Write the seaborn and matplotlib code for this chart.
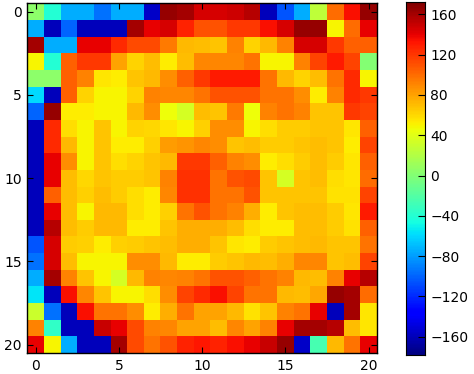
import numpy as np
import matplotlib
matplotlib.use("Agg")
import matplotlib.pyplot as plt
import seaborn as sns

rows = [
    [5, -40, -75, -75, -95, -75, -75, -155, 165, 160, 145, 145, 148, 155, -160, -105, -75, 25, 100, 135, 165],
    [-75, -160, -100, -160, -160, -160, 160, 140, 145, 128, 110, 110, 120, 120, 135, 145, 165, 165, 50, 100, 140],
    [160, -75, -75, 140, 140, 125, 112, 112, 95, 72, 70, 68, 92, 62, 72, 92, 145, 145, 120, 105, 105],
    [50, -40, 105, 120, 120, 80, 62, 70, 52, 70, 90, 90, 90, 98, 50, 50, 92, 115, 130, 115, 0],
    [5, 5, 105, 92, 55, 52, 68, 72, 88, 105, 120, 130, 130, 130, 98, 72, 62, 70, 98, 125, 50],
    [-60, -160, 105, 62, 50, 50, 62, 92, 90, 90, 98, 110, 110, 110, 98, 98, 88, 52, 92, 125, 120],
    [-100, 165, 52, 52, 50, 50, 72, 88, 45, 35, 70, 68, 95, 45, 92, 98, 92, 68, 68, 120, 115],
    [-160, 125, 58, 50, 68, 50, 62, 60, 55, 50, 63, 88, 88, 50, 58, 65, 65, 68, 68, 55, 105],
    [-160, 125, 72, 50, 68, 52, 52, 63, 82, 85, 90, 88, 68, 70, 65, 65, 68, 70, 68, 52, 115],
    [-160, 140, 88, 50, 68, 58, 62, 68, 72, 120, 120, 105, 92, 88, 52, 58, 65, 70, 65, 55, 105],
    [-160, 140, 70, 60, 68, 65, 65, 68, 92, 122, 122, 98, 110, 112, 68, 35, 68, 70, 58, 55, 100],
    [-160, 105, 70, 63, 70, 65, 58, 52, 90, 122, 122, 98, 98, 110, 68, 68, 68, 68, 56, 56, 115],
    [-160, 140, 70, 50, 72, 72, 58, 52, 63, 98, 110, 98, 92, 75, 52, 68, 70, 70, 65, 55, 130],
    [-160, 155, 70, 65, 72, 72, 52, 52, 68, 75, 75, 75, 70, 58, 52, 52, 70, 70, 65, 56, 105],
    [-105, 145, 65, 63, 52, 63, 65, 68, 70, 75, 75, 68, 55, 53, 65, 68, 70, 72, 68, 68, 98],
    [-95, 145, 70, 50, 50, 50, 88, 88, 72, 53, 52, 65, 68, 72, 70, 75, 90, 90, 68, 70, 115],
    [-75, 160, 92, 68, 50, 35, 72, 92, 90, 92, 98, 110, 110, 105, 98, 92, 72, 70, 92, 140, 155],
    [-55, -160, 135, 90, 68, 50, 50, 58, 88, 115, 125, 135, 115, 98, 98, 72, 70, 78, 165, 160, 100],
    [30, -95, -160, 135, 98, 98, 88, 52, 75, 98, 80, 80, 72, 56, 68, 92, 98, 140, -160, 160, 55],
    [92, -35, -160, -160, 150, 140, 112, 92, 90, 80, 80, 70, 90, 80, 92, 140, 160, 160, 155, 70, 55],
    [140, 50, -75, -160, -160, 160, 112, 98, 110, 128, 132, 128, 135, 140, 150, 165, -155, -25, 72, 98, 140],
]
tick_vals = [0, 5, 10, 15, 20]
cbar_ticks = [160, 120, 80, 40, 0, -40, -80, -120, -160]

data = np.array(rows, dtype=float)

fig = plt.figure(figsize=(4.74, 3.74), dpi=100)
ax = fig.add_axes([0.0576, 0.056, 0.7374, 0.935])
cax = fig.add_axes([0.857, 0.051, 0.040, 0.943])

sns.heatmap(data, cmap="jet", vmin=-178, vmax=172, ax=ax, cbar_ax=cax,
            xticklabels=False, yticklabels=False)

ax.set_xticks([t + 0.5 for t in tick_vals])
ax.set_xticklabels([str(t) for t in tick_vals], fontsize=10)
ax.set_yticks([t + 0.5 for t in tick_vals])
ax.set_yticklabels([str(t) for t in tick_vals], fontsize=10, rotation=0)
ax.tick_params(direction="in", length=4, top=True, right=True, color="black", pad=4)
for s in ax.spines.values():
    s.set_visible(True)
    s.set_color("black")
    s.set_linewidth(1.0)

cax.set_yticks(cbar_ticks)
cax.set_yticklabels([str(t).replace("-", "\u2212") for t in cbar_ticks], fontsize=10)
cax.tick_params(direction="in", length=5, right=True, left=False, color="black")
for s in cax.spines.values():
    s.set_visible(True)
    s.set_color("black")

fig.savefig("out.png", dpi=100)
